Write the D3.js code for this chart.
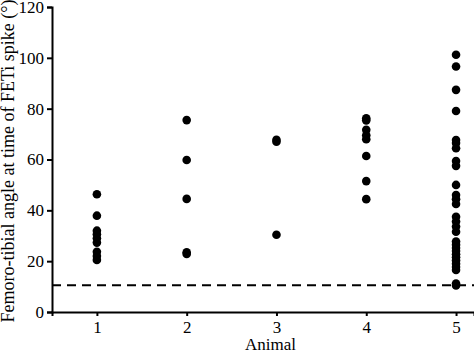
<!DOCTYPE html>
<html>
<head>
<meta charset="utf-8">
<script src="https://cdn.jsdelivr.net/npm/d3@7"></script>
<style>
  body { margin: 0; background: #fff; }
  svg { display: block; }
  .axis text { font-family: "Liberation Serif", "Times New Roman", serif; font-size: 17px; fill: #000; }
  .axis path, .axis line { stroke: #000; stroke-width: 2; }
</style>
</head>
<body>
<div id="chart"></div>
<script>
// data
var animals = [1, 2, 3, 4, 5];
var animal1 = [46.3, 37.9, 32, 30.6, 29, 27.3, 23.7, 22, 20.5];
var animal2 = [75.5, 59.8, 44.5, 23.5, 22.8];
var animal3 = [67.8, 67, 30.4];
var animal4 = [76.2, 75.4, 71.7, 69.5, 68, 61.4, 51.5, 44.4];
var animal5 = [101.2, 96.6, 87.4, 79.1, 67.7, 66.5, 64.4, 59.4, 57.5,
               50, 46, 44.4, 42.5, 37.5, 35.6, 33.6, 31.6, 27.7,
               26.5, 25.2, 24, 22.7, 21.5, 20.3, 19, 17.7, 16.5, 11.2, 10.4];
var threshold = 10.5;
var yTicks = [0, 20, 40, 60, 80, 100, 120];

var groups = [animal1, animal2, animal3, animal4, animal5];
var points = [];
groups.forEach(function(vals, i) {
    vals.forEach(function(v) { points.push({animal: animals[i], value: v}); });
});

var width = 474, height = 351;
var margin = {top: 7, right: 0, bottom: 39, left: 52};

var svg = d3.select("#chart")
    .append("svg")
    .attr("width", width)
    .attr("height", height);

var x = d3.scaleLinear()
    .domain([0.5, 5.2])
    .range([margin.left, width - margin.right]);

var y = d3.scaleLinear()
    .domain([0, 120])
    .range([height - margin.bottom, margin.top]);

// x axis
svg.append("g")
    .attr("class", "axis")
    .attr("transform", "translate(0," + y(0) + ")")
    .call(d3.axisBottom(x).tickValues(animals).tickFormat(d3.format("d")).tickSizeOuter(0).tickSize(4).tickPadding(5));

// y axis
svg.append("g")
    .attr("class", "axis")
    .attr("transform", "translate(" + margin.left + ",0)")
    .call(d3.axisLeft(y).tickValues(yTicks).tickSizeOuter(0).tickSize(5).tickPadding(3));

// threshold line
svg.append("line")
    .attr("x1", x(0.5))
    .attr("x2", width)
    .attr("y1", y(threshold))
    .attr("y2", y(threshold))
    .attr("stroke", "#000")
    .attr("stroke-width", 2)
    .attr("stroke-dasharray", "9,6");

// dots
svg.selectAll("circle.pt")
    .data(points)
    .enter()
    .append("circle")
        .attr("class", "pt")
        .attr("cx", function(d) { return x(d.animal); })
        .attr("cy", function(d) { return y(d.value); })
        .attr("r", 4.3)
        .style("fill", "#000");

// axis titles
svg.append("text")
    .attr("x", (x(1) + x(5)) / 2 - 6)
    .attr("y", 350)
    .attr("text-anchor", "middle")
    .style("font-family", "'Liberation Serif', 'Times New Roman', serif")
    .style("font-size", "17px")
    .text("Animal");

svg.append("text")
    .attr("transform", "translate(14," + 161 + ")rotate(-90)")
    .attr("text-anchor", "middle")
    .style("font-family", "'Liberation Serif', 'Times New Roman', serif")
    .style("font-size", "18px")
    .text("Femoro-tibial angle at time of FETi spike (°)");
</script>
</body>
</html>
